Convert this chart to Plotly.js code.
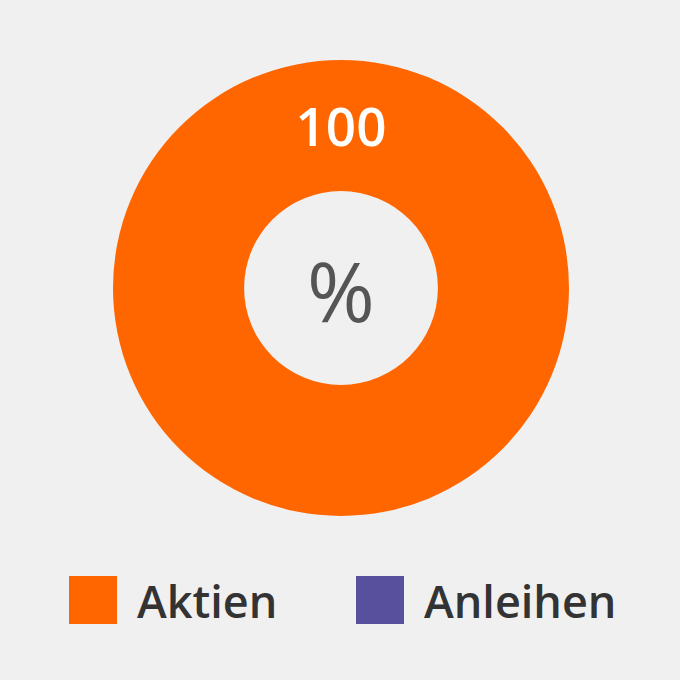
<!DOCTYPE html>
<html>
<head>
<meta charset="utf-8">
<script src="https://cdn.plot.ly/plotly-3.0.1.min.js"></script>
<style>
  html, body { margin: 0; padding: 0; background: #f0f0f0; }
  #chart { width: 680px; height: 680px; }
</style>
</head>
<body>
<div id="chart"></div>
<script>
    // --- DATA ---
    const categories = ['Aktien', 'Anleihen'];
    const shares = [100, 0];
    const sliceColors = ['#ff6600', '#58509d'];
    const centerLabel = '%';

    const fontFamily = '"Open Sans", "Noto Sans", sans-serif';

    // --- DONUT ---
    const donut = {
        type: 'pie',
        labels: categories,
        values: shares,
        marker: { colors: sliceColors, line: { width: 0 } },
        hole: 0.425,
        sort: false,
        direction: 'clockwise',
        rotation: 180, // start at the bottom so the full-ring label sits on top
        textinfo: 'value',
        textposition: 'inside',
        insidetextorientation: 'horizontal',
        textfont: { family: fontFamily, size: 53, color: '#ffffff', weight: 600 },
        showlegend: false,
        hoverinfo: 'label+value',
        domain: { x: [113 / 680, 569 / 680], y: [1 - 516 / 680, 1 - 60 / 680] }
    };

    // --- CUSTOM LEGEND (big squares) ---
    const legendX = [69, 356];
    const shapes = [];
    const annotations = [{
        text: centerLabel,
        x: 341 / 680, y: 1 - 290 / 680,
        xref: 'paper', yref: 'paper',
        showarrow: false,
        font: { family: fontFamily, size: 82, color: '#555555' }
    }];
    categories.forEach(function(name, i) {
        shapes.push({
            type: 'rect', xref: 'paper', yref: 'paper',
            x0: legendX[i] / 680, x1: (legendX[i] + 48) / 680,
            y0: 1 - 624 / 680, y1: 1 - 576 / 680,
            fillcolor: sliceColors[i], line: { width: 0 }
        });
        annotations.push({
            text: name,
            x: (legendX[i] + 66) / 680, y: 1 - 600 / 680,
            xref: 'paper', yref: 'paper',
            xanchor: 'left', yanchor: 'middle',
            showarrow: false,
            font: { family: fontFamily, size: 45, color: '#333333', weight: 600 }
        });
    });

    const layout = {
        width: 680,
        height: 680,
        margin: { t: 0, r: 0, b: 0, l: 0 },
        paper_bgcolor: '#f0f0f0',
        plot_bgcolor: '#f0f0f0',
        shapes: shapes,
        annotations: annotations
    };

    Plotly.newPlot('chart', [donut], layout, { displayModeBar: false, staticPlot: true });
</script>
</body>
</html>
